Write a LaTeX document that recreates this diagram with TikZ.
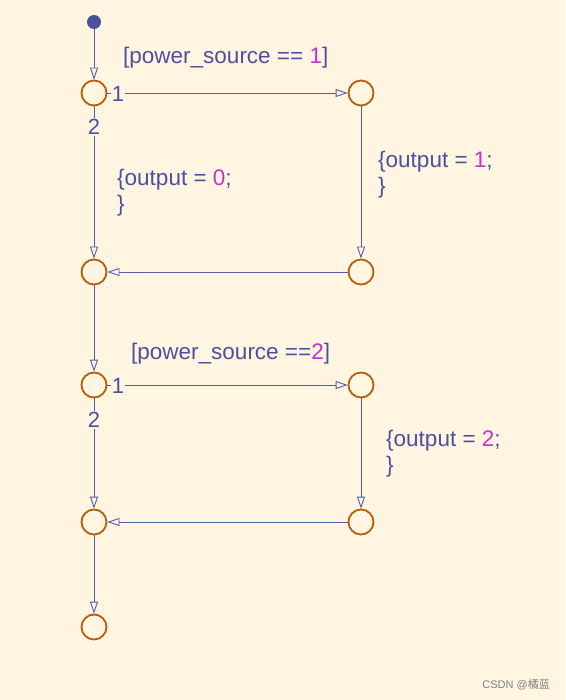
\documentclass[tikz,border=0pt]{standalone}
\usepackage{fontspec}
\setmainfont{Liberation Sans}
\newfontfamily\cjkfont{Noto Sans CJK SC}
\usepackage{tikz}
\usetikzlibrary{arrows.meta}
\definecolor{bgcream}{RGB}{255,245,225}
\definecolor{juncorange}{RGB}{185,92,10}
\definecolor{flowblue}{RGB}{82,90,178}
\definecolor{textblue}{RGB}{76,80,158}
\definecolor{nummagenta}{RGB}{200,50,200}
\tikzset{
    junc/.style={draw=juncorange,circle,fill=bgcream,minimum size=25pt,inner sep=0pt,line width=1.8pt},
    defdot/.style={circle,fill=textblue,minimum size=14pt,inner sep=0pt},
    flow/.style={draw=flowblue,line width=0.9pt,-{Triangle[length=12pt,width=8pt,fill=bgcream]}},
    lab/.style={text=textblue,font=\fontsize{22.5}{26}\selectfont,inner sep=0pt,align=left},
    ordlab/.style={text=textblue,font=\fontsize{22}{26}\selectfont,fill=bgcream,inner sep=1pt},
}
\newcommand{\num}[1]{\textcolor{nummagenta}{#1}}

\begin{document}
\begin{tikzpicture}[x=1pt,y=-1pt]
            \useasboundingbox[fill=bgcream] (0,0) rectangle (565,700);

            \node[defdot] (start) at (94,22) {}; % default transition
            \node[junc] (a1) at (94,93) {}; % junctions
            \node[junc] (b1) at (361,93) {};
            \node[junc] (a2) at (94,272) {};
            \node[junc] (b2) at (361,272) {};
            \node[junc] (a3) at (94,385) {};
            \node[junc] (b3) at (361,385) {};
            \node[junc] (a4) at (94,522) {};
            \node[junc] (b4) at (361,522) {};
            \node[junc] (a5) at (94,627) {};

            \draw[flow] (start) -- (a1.north); % transitions
            \draw[flow] (a1.east) -- (b1.west);
            \draw[flow] (a1.south) -- (a2.north);
            \draw[flow] (b1.south) -- (b2.north);
            \draw[flow] (b2.west) -- (a2.east);
            \draw[flow] (a2.south) -- (a3.north);
            \draw[flow] (a3.east) -- (b3.west);
            \draw[flow] (a3.south) -- (a4.north);
            \draw[flow] (b3.south) -- (b4.north);
            \draw[flow] (b4.west) -- (a4.east);
            \draw[flow] (a4.south) -- (a5.north);

            \node[ordlab] (o11) at (118,94) {1}; % execution order
            \node[ordlab] (o12) at (94,127) {2};
            \node[ordlab] (o21) at (118,386) {1};
            \node[ordlab] (o22) at (94,420) {2};

            \node[lab,anchor=west] (c1) at (123,58) {[power\_source == \num{1}]}; % conditions and actions
            \node[lab,anchor=west] (act0) at (117,193) {\{output = \num{0};\\\}};
            \node[lab,anchor=west] (act1) at (378,175) {\{output = \num{1};\\\}};
            \node[lab,anchor=west] (c2) at (131,354) {[power\_source ==\num{2}]};
            \node[lab,anchor=west] (act2) at (386,454) {\{output = \num{2};\\\}};

            \node[text=gray,font=\fontsize{11}{13}\selectfont,anchor=east,inner sep=0pt] (mark) at (550,685) {CSDN @{\cjkfont 橘蓝}};
        \end{tikzpicture}
\end{document}
